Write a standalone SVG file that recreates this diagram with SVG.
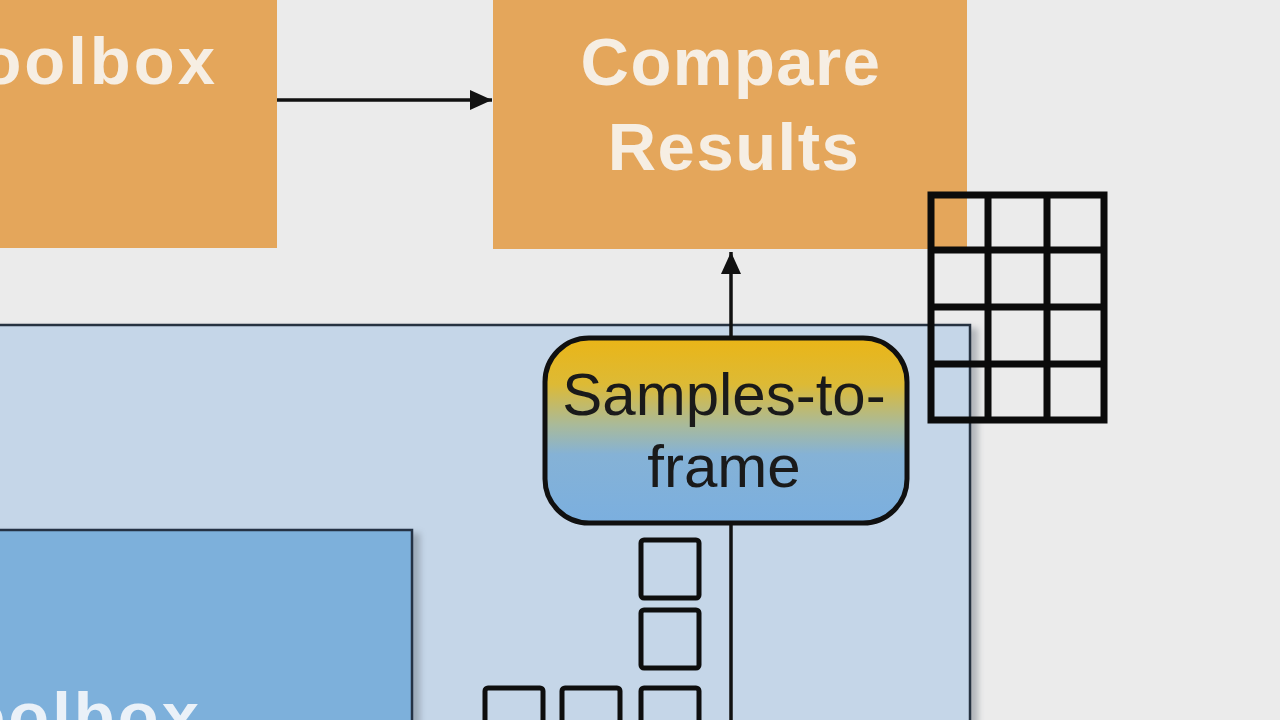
<svg xmlns="http://www.w3.org/2000/svg" width="1280" height="720" viewBox="0 0 1280 720">
  <defs>
    <linearGradient id="s2f" x1="0" y1="0" x2="0" y2="1">
      <stop offset="0" stop-color="#EAB517"/>
      <stop offset="0.25" stop-color="#DDBA35"/>
      <stop offset="0.47" stop-color="#A9BA9A"/>
      <stop offset="0.63" stop-color="#85B2D6"/>
      <stop offset="1" stop-color="#7BAFDF"/>
    </linearGradient>
    <filter id="shadow" x="-5%" y="-5%" width="115%" height="115%">
      <feGaussianBlur stdDeviation="3"/>
    </filter>
    <marker id="arrowBig" viewBox="0 0 10 10" refX="10" refY="5" markerWidth="22" markerHeight="20" markerUnits="userSpaceOnUse" orient="auto" preserveAspectRatio="none">
      <path d="M0,0 L10,5 L0,10 Z" fill="#111"/>
    </marker>
  </defs>
  <style>
    .orange { fill: #E4A65B; }
    .whiteTxt { font-family: "Liberation Sans", Arial, sans-serif; font-weight: bold; font-size: 67px; fill: #F6EEE3; letter-spacing: 1.5px; }
    .darkTxt { font-family: "Liberation Sans", Arial, sans-serif; font-size: 60px; fill: #1A1A1A; }
    .conn { stroke: #111; stroke-width: 3.5; fill: none; }
    .sq { fill: none; stroke: #0E0E0E; stroke-width: 5; }
    .grid { fill: none; stroke: #0B0B0B; stroke-width: 7; }
  </style>

  <rect x="0" y="0" width="1280" height="720" fill="#EBEBEB"/>

  <g id="toolbox-top">
    <rect class="orange" x="-20" y="-20" width="297" height="268"/>
    <text class="whiteTxt" x="218" y="84" text-anchor="end" style="letter-spacing:3px">Toolbox</text>
  </g>

  <g id="compare-results">
    <rect class="orange" x="493" y="-20" width="474" height="269"/>
    <text class="whiteTxt" x="731" y="85" text-anchor="middle">Compare</text>
    <text class="whiteTxt" x="734" y="170" text-anchor="middle">Results</text>
  </g>

  <g id="panel">
    <rect x="-20" y="328" width="998" height="420" fill="#9A9FA6" filter="url(#shadow)" opacity="0.7"/>
    <rect x="-20" y="325" width="990" height="420" fill="#C5D6E8" stroke="#263241" stroke-width="2.5"/>
  </g>

  <g id="toolbox-bottom">
    <rect x="-20" y="533" width="440" height="220" fill="#8A96A3" filter="url(#shadow)" opacity="0.7"/>
    <rect x="-20" y="530" width="432" height="220" fill="#7DB0DB" stroke="#243244" stroke-width="2.5"/>
    <text class="whiteTxt" x="202" y="739" text-anchor="end" style="fill:#EAF1F8;letter-spacing:3px">Toolbox</text>
  </g>

  <g id="connectors">
    <line class="conn" x1="277" y1="100" x2="492" y2="100" marker-end="url(#arrowBig)"/>
    <line class="conn" x1="731" y1="337" x2="731" y2="252" marker-end="url(#arrowBig)"/>
    <line class="conn" x1="731" y1="525" x2="731" y2="730"/>
  </g>

  <g id="samples-to-frame">
    <rect x="545" y="338" width="362" height="185" rx="44" ry="44" fill="url(#s2f)" stroke="#101010" stroke-width="5"/>
    <text class="darkTxt" x="724" y="415" text-anchor="middle">Samples-to-</text>
    <text class="darkTxt" x="724" y="487" text-anchor="middle">frame</text>
  </g>

  <g id="sample-squares">
    <rect class="sq" x="641" y="540" width="58" height="58" rx="3"/>
    <rect class="sq" x="641" y="610" width="58" height="58" rx="3"/>
    <rect class="sq" x="641" y="688" width="58" height="58" rx="3"/>
    <rect class="sq" x="562" y="688" width="58" height="58" rx="3"/>
    <rect class="sq" x="485" y="688" width="58" height="58" rx="3"/>
  </g>

  <g id="frame-grid">
    <rect class="grid" x="931" y="195" width="173" height="225"/>
    <line class="grid" x1="988" y1="195" x2="988" y2="420"/>
    <line class="grid" x1="1047" y1="195" x2="1047" y2="420"/>
    <line class="grid" x1="931" y1="250" x2="1104" y2="250"/>
    <line class="grid" x1="931" y1="307" x2="1104" y2="307"/>
    <line class="grid" x1="931" y1="364" x2="1104" y2="364"/>
  </g>
</svg>
